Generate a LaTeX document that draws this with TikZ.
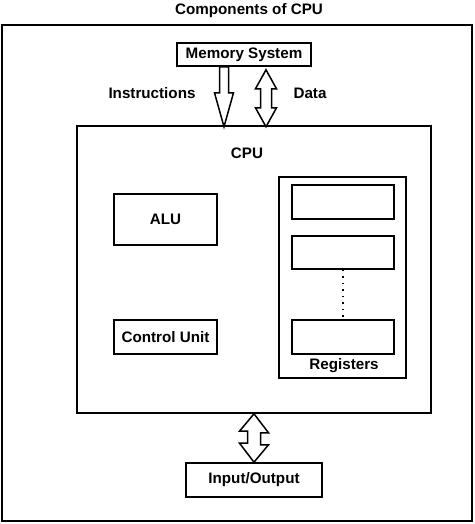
\documentclass[tikz,border=0pt]{standalone}
\usepackage{fontspec}
\setmainfont{Liberation Sans}
\usetikzlibrary{calc}

\begin{document}
\begin{tikzpicture}[x=1pt,y=1pt,
        box/.style={draw, line width=1.6pt, inner sep=0pt},
        lbl/.style={font=\fontsize{15.2}{18}\selectfont\bfseries},
        blk/.style={draw, line width=1.5pt, fill=white, line join=miter}]
        \useasboundingbox (0,0) rectangle (474,524);

        % Frame and title
        \node[box, minimum width=470, minimum height=496] (frame) at (237,251) {};
        \node[lbl] (title) at (249,513) {Components of CPU};

        % Memory, CPU and I/O boxes
        \node[box, lbl, minimum width=134, minimum height=23] (mem) at (244,469.5) {Memory System};
        \node[box, minimum width=354, minimum height=287] (cpu) at (254,254.5) {};
        \node[lbl] (cpulabel) at (247,371) {CPU};
        \node[box, lbl, minimum width=136, minimum height=34] (io) at (254,44) {Input/Output};

        % Units inside the CPU
        \node[box, lbl, minimum width=103, minimum height=51] (alu) at (165.5,304.5) {ALU};
        \node[box, lbl, minimum width=103, minimum height=34] (cu) at (165.5,187) {Control Unit};

        % Registers
        \node[box, minimum width=127, minimum height=201] (regs) at (342.5,246.5) {};
        \node[box, minimum width=102, minimum height=34] (reg1) at (343,322) {};
        \node[box, minimum width=102, minimum height=33] (reg2) at (343,271.5) {};
        \node[box, minimum width=102, minimum height=34] (reg3) at (343,187) {};
        \node[lbl] (reglabel) at (344,158) {Registers};
        \draw[line width=1.5pt, dash pattern=on 1.5pt off 5pt] (reg2.south) -- (reg3.north);

        % Labels of the memory arrows
        \node[lbl] (instr) at (152,431) {Instructions};
        \node[lbl] (data) at (310,431) {Data};

        % Instructions arrow (memory to cpu)
        \coordinate (ins) at ($(mem.south)+(-20,0)$);
        \draw[blk] (ins) ++(-4.5,0) -- ++(0,-26) -- ++(-5,0) -- ++(9.5,-34) -- ++(9.5,34) -- ++(-5,0) -- ++(0,26) -- cycle;

        % Data arrow (both ways)
        \coordinate (dat) at ($(mem.south)+(22,-3)$);
        \draw[blk] (dat) -- ++(10.5,-19) -- ++(-5,0) -- ++(0,-19) -- ++(5,0) -- ++(-10.5,-19) -- ++(-10.5,19) -- ++(5,0) -- ++(0,19) -- ++(-5,0) -- cycle;

        % CPU to Input/Output arrow
        \draw[blk] (cpu.south) -- ++(14.5,-19) -- ++(-8,0) -- ++(0,-12) -- ++(8,0) -- (io.north) -- ++(-14.5,19) -- ++(8,0) -- ++(0,12) -- ++(-8,0) -- cycle;
\end{tikzpicture}
\end{document}
